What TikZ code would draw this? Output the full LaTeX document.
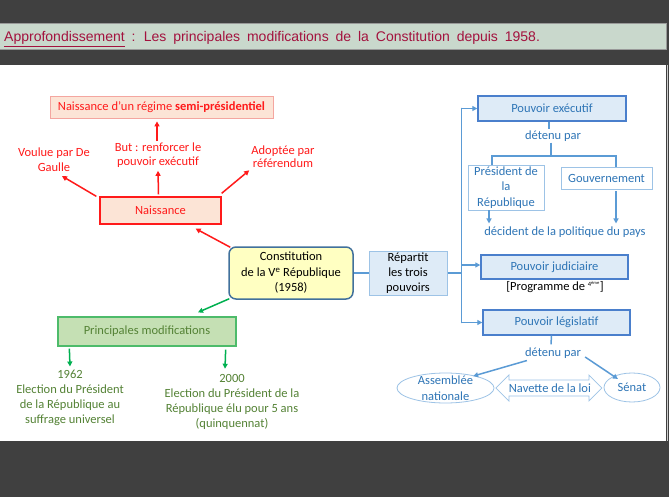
\documentclass[tikz,border=0pt]{standalone}
\usepackage{fontspec}
\setmainfont{Carlito}
\newfontfamily\arialf{Liberation Sans}
\usetikzlibrary{arrows.meta,shapes.geometric,calc}
\definecolor{bgdark}{HTML}{404040}
\definecolor{titleband}{HTML}{C9D8CC}
\definecolor{titletxt}{HTML}{A3123E}
\definecolor{redc}{HTML}{FF1A1A}
\definecolor{pinkfill}{HTML}{FCE4D6}
\definecolor{pinkborder}{HTML}{F4A6A0}
\definecolor{yellowfill}{HTML}{FFFFC2}
\definecolor{constborder}{HTML}{41719C}
\definecolor{greenfill}{HTML}{C5E0B4}
\definecolor{greenborder}{HTML}{4DBB6A}
\definecolor{greentxt}{HTML}{548235}
\definecolor{greenarrow}{HTML}{00B050}
\definecolor{lbfill}{HTML}{DEEBF7}
\definecolor{bluetxt}{HTML}{2E75B6}
\definecolor{blueline}{HTML}{5B9BD5}
\definecolor{boxblue}{HTML}{4A7FCC}
\definecolor{paleblue}{HTML}{9DC3E6}
\tikzset{
  txt/.style={align=center, inner sep=0pt, font=\fontsize{12.5}{14.5}\selectfont},
  redtxt/.style={txt, text=redc},
  greentxt/.style={txt, text=greentxt, font=\fontsize{12.5}{15}\selectfont},
  bluetxtst/.style={txt, text=bluetxt},
  pinkbox/.style={txt, text=redc, draw=pinkborder, fill=pinkfill, line width=0.8pt},
  naissbox/.style={txt, text=redc, draw=redc, fill=pinkfill, line width=1.3pt},
  constbox/.style={txt, draw=constborder, fill=yellowfill, line width=1.5pt, rounded corners=7pt, font=\fontsize{12.5}{15.5}\selectfont},
  greenbox/.style={txt, text=greentxt, draw=greenborder, fill=greenfill, line width=1.3pt},
  repbox/.style={txt, draw=paleblue, fill=lbfill, line width=1pt, font=\fontsize{12.5}{15}\selectfont},
  powbox/.style={txt, text=bluetxt, draw=boxblue, fill=lbfill, line width=1.4pt},
  whitebox/.style={txt, text=bluetxt, draw=paleblue, fill=white, line width=0.8pt, font=\fontsize{12.5}{15.5}\selectfont},
  ellshape/.style={ellipse, inner sep=0pt, draw=paleblue, fill=white, line width=0.8pt},
  redarr/.style={draw=redc, line width=1.5pt, -{Triangle[length=5pt,width=5pt]}},
  greenarr/.style={draw=greenarrow, line width=1.5pt, -{Triangle[length=5pt,width=5pt]}},
  bluearr/.style={draw=blueline, line width=1.5pt, -{Triangle[length=5pt,width=5pt]}},
  blueln/.style={draw=blueline, line width=1.5pt},
}
\begin{document}
\begin{tikzpicture}[x=1pt,y=-1pt]
\fill[bgdark] (0,0) rectangle (669,497);
\useasboundingbox (0,0) rectangle (669,497);
\fill[white] (0,65) rectangle (666,441);
\draw[fill=titleband, draw=gray!80, line width=0.6pt] (-1,23.5) rectangle (666,49);
\fill[gray!40] (666.5,65) rectangle (667.5,441);
\node[anchor=base west, inner sep=0pt, text=titletxt, font=\arialf\fontsize{14}{16}\selectfont] (title) at (4,42) {\spaceskip=6.9pt\relax\underline{Approfondissement} : Les principales modifications de la Constitution depuis 1958.};

% left red part
\node[pinkbox, minimum width=223pt, minimum height=22pt] (regime) at (161.5,107) {Naissance d’un régime \textbf{semi-présidentiel}};
\node[redtxt, font=\fontsize{12.5}{15}\selectfont] (voulue) at (54,159.5) {Voulue par De\\Gaulle};
\node[redtxt] (but) at (158,155) {But : renforcer le\\pouvoir exécutif};
\node[redtxt, font=\fontsize{12.5}{13.5}\selectfont] (adoptee) at (283,156.5) {Adoptée par\\référendum};
\node[naissbox, minimum width=121pt, minimum height=27pt] (naiss) at (160.5,210.5) {Naissance};

\node[constbox, minimum width=124pt, minimum height=52pt] (const) at (291,273) {Constitution\\de la V\textsuperscript{e} République\\(1958)};

\draw[redarr] ($(naiss.north west)+(-3,0)$) -- ($(voulue.south)+(8,4.5)$);
\draw[redarr] ($(naiss.north)+(-2,-2)$) -- ($(but.south)+(0,3)$);
\draw[redarr] ($(but.north)+(-1,-1)$) -- ($(regime.south)+(-4.5,3)$);
\draw[redarr] ($(naiss.north east)+(0,-3)$) -- ($(adoptee.south west)+(-2,2.5)$);
\draw[redarr] ($(const.north west)+(2,1)$) -- ($(naiss.south east)+(-26,4)$);

% green part
\node[greenbox, minimum width=178pt, minimum height=29pt] (modif) at (147,331.5) {Principales modifications};
\node[greentxt] (m1962) at (70,398) {1962\\Election du Président\\de la République au\\suffrage universel};
\node[greentxt] (m2000) at (232,401.5) {2000\\Election du Président de la\\République élu pour 5 ans\\(quinquennat)};
\draw[greenarr] ($(const.south west)+(1,-1)$) -- ($(modif.north)+(51,-4)$);
\draw[greenarr] ($(modif.south west)+(12,2)$) -- ($(m1962.north)+(0,-3.5)$);
\draw[greenarr] ($(modif.south east)+(-11,3)$) -- ($(m2000.north)+(-7,-5)$);

% blue part
\node[repbox, minimum width=78pt, minimum height=44pt] (repart) at (408,273) {Répartit\\les trois\\pouvoirs};
\draw[blueln] (const.east) -- (repart.west);
\coordinate (jn) at ($(repart.east)+(14,0)$);
\node[powbox, minimum width=148pt, minimum height=25pt] (exec) at (552,108.5) {Pouvoir exécutif};
\node[powbox, minimum width=147pt, minimum height=24pt] (jud) at (554.5,267) {Pouvoir judiciaire};
\node[powbox, minimum width=147pt, minimum height=25pt] (leg) at (556.5,322.5) {Pouvoir législatif};
\coordinate (vtop) at (jn |- exec.west);
\coordinate (vbot) at (jn |- leg.west);
\draw[blueln] (repart.east) -- (jn);
\draw[blueln, line cap=round] (vtop) -- (vbot);
\draw[bluearr] ($(vtop)+(-0.75,0)$) -- (exec.west);
\draw[bluearr] (jn |- jud.west) ++(0,-2) -- ($(jud.west)+(0,-2)$);
\draw[bluearr] ($(vbot)+(-0.75,0)$) -- (leg.west);

\node[txt] (prog) at (555,287) {[Programme de \raisebox{0.7ex}{\fontsize{6.5}{7}\selectfont 4\textsuperscript{ème}}]};

% executive subtree
\node[bluetxtst] (det1) at (553,136) {détenu par};
\node[whitebox, minimum width=76pt, minimum height=45pt] (pres) at (506,187.5) {Président de\\la\\République};
\node[whitebox, minimum width=91pt, minimum height=22pt] (gouv) at (606.5,178) {Gouvernement};
\node[bluetxtst] (decid) at (565,232) {décident de la politique du pays};
\draw[blueln] ($(exec.south)+(-3,0)$) -- ($(det1.north)+(-4,-1)$);
\coordinate (h1) at (551,156);
\draw[blueln] ($(det1.south)+(-2,1)$) -- (h1);
\draw[blueln] ($(pres.north)+(-14,0)$) |- (h1) -| ($(gouv.north)+(9.5,0)$);
\draw[bluearr] ($(pres.south)+(-17,0)$) -- ($(decid.north)+(-76,-3)$);
\draw[bluearr] ($(gouv.south)+(9.5,2)$) -- ($(decid.north)+(51,-3)$);

% legislative subtree
\node[bluetxtst] (det2) at (553,353) {détenu par};
\node[ellshape, minimum width=97pt, minimum height=30pt] (an) at (445.5,388) {};
\node[bluetxtst, font=\fontsize{12.5}{16}\selectfont] (antxt) at (an.center) {Assemblée\\nationale};
\node[ellshape, minimum width=56pt, minimum height=29pt] (senat) at (632,387.5) {};
\node[bluetxtst] (senattxt) at (senat.center) {Sénat};
\draw[blueln] ($(leg.south)+(-5,0)$) -- ($(det2.north)+(-2,-3)$);
\draw[bluearr] ($(det2.south west)+(2,2)$) -- ($(an.north east)+(-7,-1)$);
\draw[bluearr] ($(det2.east)+(4,4)$) -- ($(senat.north west)+(6,2)$);

% navette double arrow
\draw[draw=paleblue, fill=white, line width=0.8pt, line join=miter]
  (an.east) ++(1.5,0) coordinate (nl)
  (nl) -- ++(13,-13) -- ++(0,5) -- ++(80,0) -- ++(0,-5) -- ++(13,13)
  -- ++(-13,13) -- ++(0,-5) -- ++(-80,0) -- ++(0,5) -- cycle;
\node[bluetxtst] (navette) at ($(nl)+(54,0)$) {Navette de la loi};
\end{tikzpicture}
\end{document}
